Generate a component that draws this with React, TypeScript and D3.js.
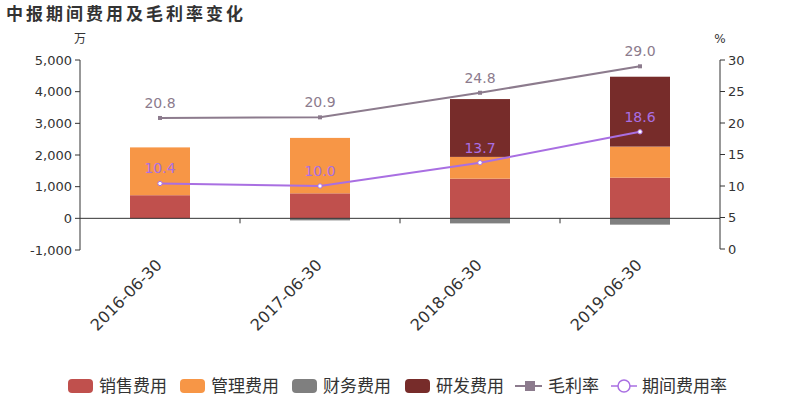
import React from 'react'
import * as d3 from 'd3'

const categories = ['2016-06-30', '2017-06-30', '2018-06-30', '2019-06-30']
const salesCost = [730, 790, 1253, 1285]
const adminCost = [1510, 1750, 687, 981]
const financeCost = [-5, -65, -160, -200]
const rdCost = [0, 0, 1826, 2206]
const grossMargin = [20.8, 20.9, 24.8, 29.0]
const expenseRate = [10.4, 10.0, 13.7, 18.6]
const leftTicks = [-1000, 0, 1000, 2000, 3000, 4000, 5000]
const rightTicks = [0, 5, 10, 15, 20, 25, 30]

const seriesKeys = ['sales', 'admin', 'finance', 'rd']
const seriesNames = ['销售费用', '管理费用', '财务费用', '研发费用']
const seriesColors = ['#c0504d', '#f79646', '#7f7f7f', '#772c2a']
const grossColor = '#8c7b8d'
const rateColor = '#a96fe2'

const font = '"DejaVu Sans", "Noto Sans CJK SC", sans-serif'

export default function App() {
  const W = 800, H = 400
  const x0 = 80, x1 = 720
  const yTop = 60, yBot = 250

  const x = d3.scaleBand().domain(categories).range([x0, x1])
  const y = d3.scaleLinear().domain([-1000, 5000]).range([yBot, yTop])
  const yR = d3.scaleLinear().domain([0, 30]).range([yBot - 1, yTop])
  const barW = 60

  const rows = categories.map((c, i) => ({
    cat: c, sales: salesCost[i], admin: adminCost[i], finance: financeCost[i], rd: rdCost[i]
  }))
  const stacked = d3.stack<any>().keys(seriesKeys).offset(d3.stackOffsetDiverging)(rows)

  const cx = (c: string) => (x(c) as number) + x.bandwidth() / 2
  const grossLine = d3.line<number>().x((d, i) => cx(categories[i])).y(d => yR(d))
  const rateLine = d3.line<number>().x((d, i) => cx(categories[i])).y(d => yR(d))
  const fmt = (v: number) => d3.format(',')(v).replace('−', '-')
  const zeroY = y(0)

  // legend layout
  const legendY = 386
  const boxes = [68, 180, 292, 405]

  return (
    <svg width={W} height={H} style={{ position: 'absolute', left: 0, top: 0 }} fontFamily={font}>
      <text x={6} y={20} fontSize={17} fontWeight="bold" fill="#333" letterSpacing={3}>中报期间费用及毛利率变化</text>
      <text x={x0} y={43} fontSize={12} fill="#333" textAnchor="middle">万</text>
      <text x={x1} y={43} fontSize={12} fill="#333" textAnchor="middle">%</text>

      {/* bars */}
      {stacked.map((s, si) => (
        <g key={s.key} fill={seriesColors[si]}>
          {s.map((d, i) => (
            <rect key={i} x={cx(categories[i]) - barW / 2} width={barW}
              y={y(Math.max(d[0], d[1]))} height={Math.abs(y(d[0]) - y(d[1]))} />
          ))}
        </g>
      ))}

      {/* left axis */}
      <line x1={x0} x2={x0} y1={yTop} y2={yBot} stroke="#333" />
      {leftTicks.map(t => (
        <g key={t}>
          <line x1={x0 - 5} x2={x0} y1={y(t)} y2={y(t)} stroke="#333" />
          <text x={x0 - 8} y={y(t)} dy="0.35em" fontSize={13} fill="#333" textAnchor="end">{fmt(t)}</text>
        </g>
      ))}

      {/* right axis */}
      <line x1={x1} x2={x1} y1={yTop} y2={yBot - 1} stroke="#333" />
      {rightTicks.map(t => (
        <g key={t}>
          <line x1={x1} x2={x1 + 5} y1={yR(t)} y2={yR(t)} stroke="#333" />
          <text x={x1 + 8} y={yR(t)} dy="0.35em" fontSize={13} fill="#333">{t}</text>
        </g>
      ))}

      {/* category axis on zero */}
      <line x1={x0} x2={x1} y1={zeroY} y2={zeroY} stroke="#333" />
      {categories.slice(1).map(c => (
        <line key={c} x1={x(c)} x2={x(c)} y1={zeroY} y2={zeroY + 5} stroke="#333" />
      ))}
      {categories.map(c => (
        <text key={c} transform={`translate(${cx(c) + 3},${yBot + 16}) rotate(-45)`}
          fontSize={16} fill="#333" textAnchor="end">{c}</text>
      ))}

      {/* lines */}
      <path d={grossLine(grossMargin) as string} fill="none" stroke={grossColor} strokeWidth={2} />
      {grossMargin.map((v, i) => (
        <g key={i}>
          <rect x={cx(categories[i]) - 2} y={yR(v) - 2} width={4} height={4} fill={grossColor} />
          <text x={cx(categories[i])} y={yR(v) - 10} fontSize={14} fill={grossColor} textAnchor="middle">{v.toFixed(1)}</text>
        </g>
      ))}
      <path d={rateLine(expenseRate) as string} fill="none" stroke={rateColor} strokeWidth={2} />
      {expenseRate.map((v, i) => (
        <g key={i}>
          <circle cx={cx(categories[i])} cy={yR(v)} r={2.2} fill="#fff" stroke={rateColor} strokeWidth={1} />
          <text x={cx(categories[i])} y={yR(v) - 10} fontSize={14} fill={rateColor} textAnchor="middle">{v.toFixed(1)}</text>
        </g>
      ))}

      {/* legend */}
      {seriesNames.map((n, i) => (
        <g key={n}>
          <rect x={boxes[i]} y={legendY - 7} width={25} height={14} rx={4} fill={seriesColors[i]} />
          <text x={boxes[i] + 31} y={legendY} dy="0.36em" fontSize={17} fill="#333">{n}</text>
        </g>
      ))}
      <line x1={515} x2={542} y1={legendY} y2={legendY} stroke={grossColor} strokeWidth={2} />
      <rect x={525} y={legendY - 5} width={10} height={10} fill={grossColor} />
      <text x={548} y={legendY} dy="0.36em" fontSize={17} fill="#333">毛利率</text>
      <line x1={611} x2={637} y1={legendY} y2={legendY} stroke={rateColor} strokeWidth={1.5} />
      <circle cx={624} cy={legendY} r={6} fill="#fff" stroke={rateColor} strokeWidth={1.5} />
      <text x={642} y={legendY} dy="0.36em" fontSize={17} fill="#333">期间费用率</text>
    </svg>
  )
}
